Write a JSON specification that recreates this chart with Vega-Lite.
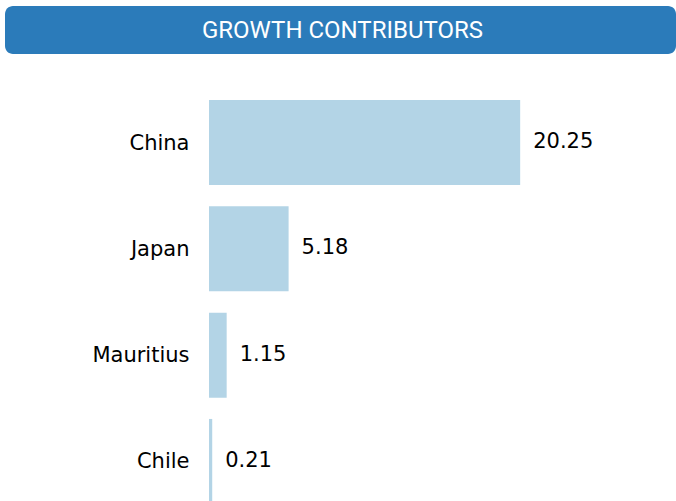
{
  "$schema": "https://vega.github.io/schema/vega-lite/v6.json",
  "padding": {"left": 5, "top": 6, "right": 0, "bottom": 0},
  "autosize": {"type": "pad"},
  "spacing": 46,
  "config": {"view": {"stroke": null}},
  "datasets": {
    "titleRow": [{"t": "GROWTH CONTRIBUTORS"}],
    "growth": [
      {"country": "China", "value": 20.25},
      {"country": "Japan", "value": 5.18},
      {"country": "Mauritius", "value": 1.15},
      {"country": "Chile", "value": 0.21}
    ]
  },
  "vconcat": [
    {
      "width": 671,
      "height": 48,
      "data": {"name": "titleRow"},
      "view": {"fill": "#2b7bba", "cornerRadius": 8, "stroke": null},
      "mark": {"type": "text", "font": "Roboto", "fontSize": 24, "color": "white", "align": "center", "baseline": "middle", "dx": 2, "dy": 1},
      "encoding": {"text": {"field": "t", "type": "nominal"}}
    },
    {
      "width": 671,
      "height": 401,
      "data": {"name": "growth"},
      "encoding": {
        "y": {
          "field": "country", "type": "nominal", "sort": null,
          "scale": {"range": [0, 404], "paddingInner": 0.2, "paddingOuter": 0},
          "axis": {"title": null, "domain": false, "ticks": false, "offset": -204, "labelFont": "DejaVu Sans", "labelFontSize": 21, "labelColor": "black", "labelPadding": 20, "labelOffset": 1}
        },
        "x": {"field": "value", "type": "quantitative", "scale": {"domain": [0, 30], "nice": false, "range": [204, 665]}, "axis": null}
      },
      "layer": [
        {"mark": {"type": "bar", "color": "#b3d4e6", "clip": true}},
        {
          "mark": {"type": "text", "align": "left", "dx": 13, "dy": -0.5, "font": "DejaVu Sans", "fontSize": 21, "color": "black"},
          "encoding": {"text": {"field": "value", "type": "quantitative", "format": ".2f"}}
        }
      ]
    }
  ]
}
